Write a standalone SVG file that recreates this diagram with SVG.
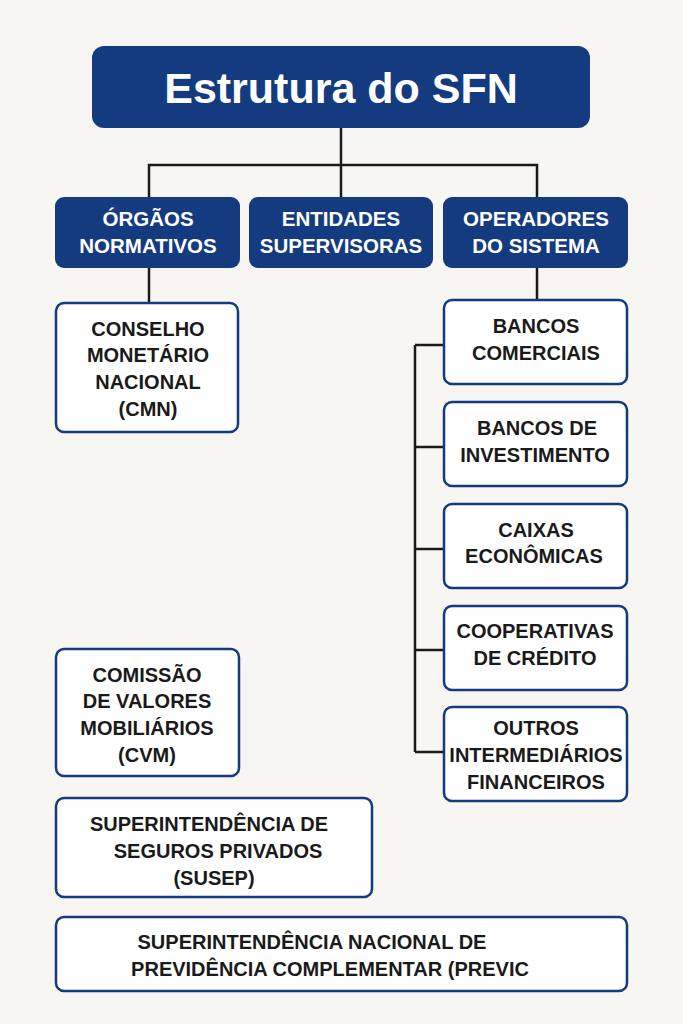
<svg xmlns="http://www.w3.org/2000/svg" width="683" height="1024" viewBox="0 0 683 1024">
<style>
.hd{fill:#143a80}
.bx{fill:#fff;stroke:#143a80;stroke-width:2.5}
.ht{fill:#fff;font-family:"Liberation Sans",Arial,sans-serif;font-weight:bold;font-size:20.5px;text-anchor:middle}
.t{fill:#1a1a1a;font-family:"Liberation Sans",Arial,sans-serif;font-weight:bold;font-size:20px;text-anchor:middle}
.ln{stroke:#1a1a1a;stroke-width:2.5;fill:none}
</style>
<rect width="683" height="1024" fill="#f7f6f2"/>
<g id="connectors">
<path class="ln" d="M341 128V165M149 197V165H537V197M341 165V197M149 268V303M537 268V300M415 345V752M415 345H444M415 447H444M415 549H444M415 650H444M415 752H444"/>
</g>
<g id="title"><rect class="hd" x="92" y="46" width="498" height="82" rx="12"/><text x="341" y="103" style="fill:#fff;font-family:'Liberation Sans',Arial,sans-serif;font-weight:bold;font-size:43px;text-anchor:middle">Estrutura do SFN</text></g>
<g id="orgaos"><rect class="hd" x="55" y="197" width="185" height="71" rx="9"/><text class="ht" x="148" y="226">ÓRGÃOS</text><text class="ht" x="148" y="253">NORMATIVOS</text></g>
<g id="entidades"><rect class="hd" x="249" y="197" width="184" height="71" rx="9"/><text class="ht" x="341" y="226">ENTIDADES</text><text class="ht" x="341" y="253">SUPERVISORAS</text></g>
<g id="operadores"><rect class="hd" x="443" y="197" width="185" height="71" rx="9"/><text class="ht" x="536" y="226">OPERADORES</text><text class="ht" x="536" y="253">DO SISTEMA</text></g>
<g id="cmn"><rect class="bx" x="56" y="303" width="182" height="129" rx="8"/><text class="t" x="148" y="336">CONSELHO</text><text class="t" x="148" y="362">MONETÁRIO</text><text class="t" x="148" y="389">NACIONAL</text><text class="t" x="148" y="416">(CMN)</text></g>
<g id="bc"><rect class="bx" x="444" y="300" width="183" height="84" rx="8"/><text class="t" x="536" y="333">BANCOS</text><text class="t" x="536" y="360">COMERCIAIS</text></g>
<g id="bi"><rect class="bx" x="444" y="402" width="183" height="84" rx="8"/><text class="t" x="537" y="435">BANCOS DE</text><text class="t" x="535" y="462">INVESTIMENTO</text></g>
<g id="ce"><rect class="bx" x="444" y="504" width="183" height="84" rx="8"/><text class="t" x="536" y="537">CAIXAS</text><text class="t" x="534" y="563">ECONÔMICAS</text></g>
<g id="cc"><rect class="bx" x="444" y="606" width="183" height="84" rx="8"/><text class="t" x="535" y="638">COOPERATIVAS</text><text class="t" x="535" y="665">DE CRÉDITO</text></g>
<g id="oi"><rect class="bx" x="444" y="707" width="183" height="94" rx="8"/><text class="t" x="536" y="735">OUTROS</text><text class="t" x="536" y="762">INTERMEDIÁRIOS</text><text class="t" x="536" y="789">FINANCEIROS</text></g>
<g id="cvm"><rect class="bx" x="56" y="649" width="183" height="127" rx="8"/><text class="t" x="147" y="682">COMISSÃO</text><text class="t" x="147" y="708">DE VALORES</text><text class="t" x="147" y="735">MOBILIÁRIOS</text><text class="t" x="147" y="762">(CVM)</text></g>
<g id="susep"><rect class="bx" x="56" y="798" width="316" height="99" rx="8"/><text class="t" x="209" y="831">SUPERINTENDÊNCIA DE</text><text class="t" x="218" y="858">SEGUROS PRIVADOS</text><text class="t" x="214" y="885">(SUSEP)</text></g>
<g id="previc"><rect class="bx" x="56" y="917" width="571" height="74" rx="8"/><text class="t" x="312" y="949">SUPERINTENDÊNCIA NACIONAL DE</text><text class="t" x="330" y="976">PREVIDÊNCIA COMPLEMENTAR (PREVIC</text></g>
</svg>
